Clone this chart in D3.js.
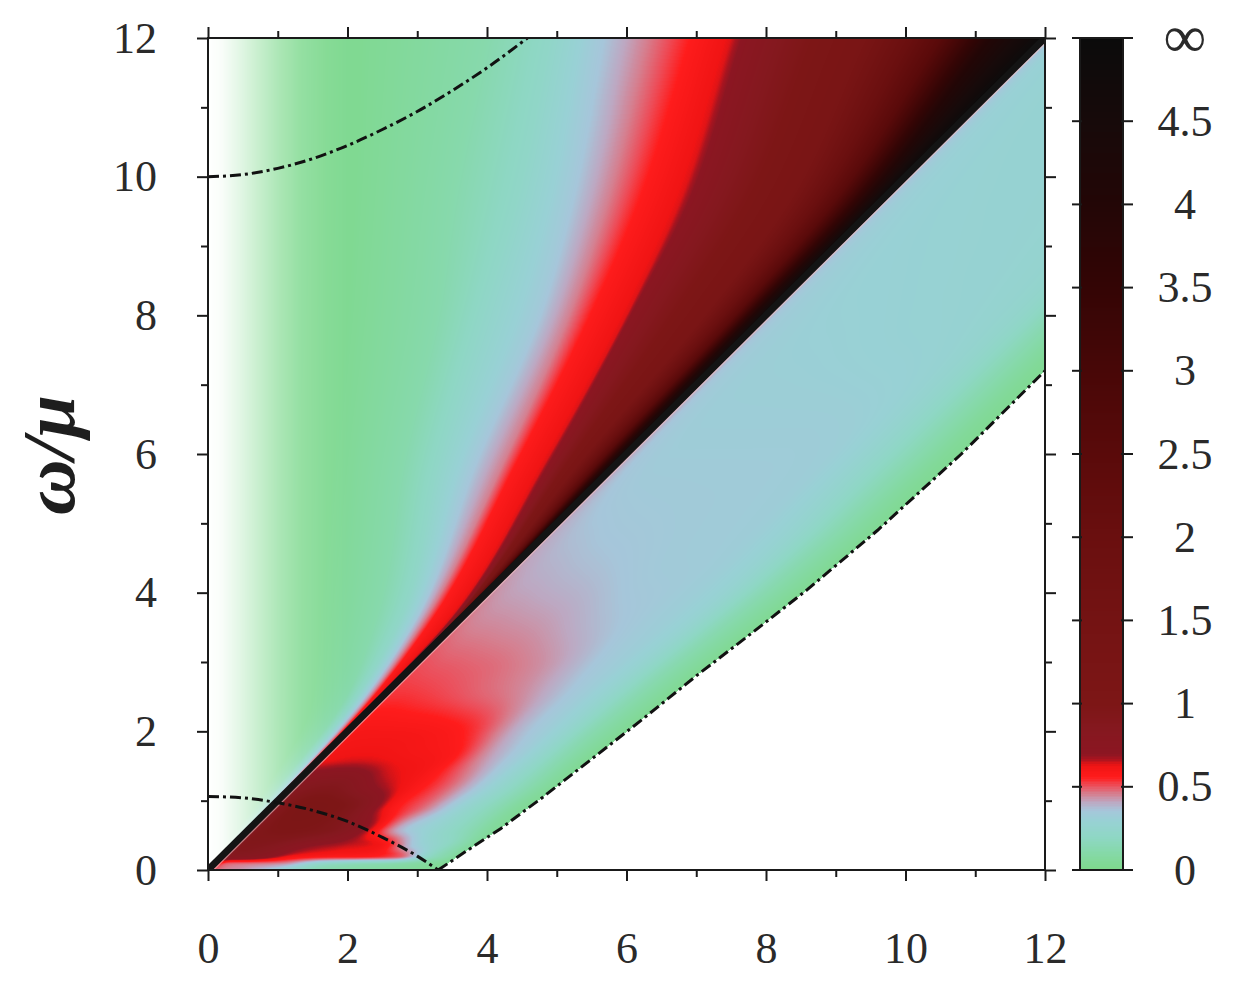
<!DOCTYPE html>
<html><head><meta charset="utf-8">
<script src="https://cdn.jsdelivr.net/npm/d3@7"></script>
<style>body{margin:0;background:#fff} svg{display:block}</style>
</head><body>
<svg id="chart" width="1235" height="1000"></svg>
<script>
// ---------------- DATA ----------------
const qTickMajor = [0, 2, 4, 6, 8, 10, 12];
const qTickMinor = [1, 3, 5, 7, 9, 11];
const wTickMajor = [0, 2, 4, 6, 8, 10, 12];
const wTickMinor = [1, 3, 5, 7, 9, 11];
const cbTickValues = [0, 0.5, 1, 1.5, 2, 2.5, 3, 3.5, 4, 4.5, 5];
const cbTickLabels = ["0", "0.5", "1", "1.5", "2", "2.5", "3", "3.5", "4", "4.5", "\u221E"];

// colour map (value -> colour)
const cmapValues = [0, 0.1, 0.2, 0.3, 0.36, 0.41, 0.46, 0.51, 0.56, 0.63, 0.67, 0.7, 0.85, 1.0, 1.5, 2.0, 2.5, 3.0, 3.5, 4.0, 4.5, 5.0];
const cmapColors = ["#7ed98a", "#85d9a6", "#8ed7c4", "#98d1d5", "#a6c6da", "#bda8c2", "#d57f8f", "#ec4e5a", "#ff1c1c", "#f01414", "#a8141f", "#8c1622", "#85181f", "#7d1616", "#741313", "#6a0f0f", "#5a0a0a", "#480707", "#340505", "#230606", "#170a0a", "#0b0b0b"];

// whitening toward q = 0 above the light line
const fadeQ = [0, 0.2, 0.45, 0.75, 1.05, 1.35, 1.7, 2.0];
const fadeAmount = [1, 0.95, 0.78, 0.55, 0.33, 0.16, 0.05, 0];

// region above ω = q: q-positions where the field reaches each value, per row ω
const upperRowsW = [0, 1.2, 2.45, 3.6, 5.9, 8.1, 9.6, 12];
const upperStopValues = [0.03, 0.12, 0.22, 0.34, 0.46, 0.57, 0.64, 0.74, 1.2, 2.5, 4.0];
const upperStopQ = [
  [0, 0, 0, 0, 0, 0, 0, 0, 0, 0, 0],
  [0.85, 1.0, 1.08, 1.12, 1.14, 1.155, 1.17, 1.178, 1.186, 1.193, 1.197],
  [1.5, 1.95, 2.1, 2.2, 2.28, 2.33, 2.38, 2.4, 2.42, 2.435, 2.445],
  [1.6, 2.4, 2.75, 2.95, 3.1, 3.21, 3.45, 3.5, 3.54, 3.57, 3.59],
  [1.8, 2.8, 3.3, 3.78, 4.25, 4.45, 4.85, 4.95, 5.35, 5.62, 5.78],
  [2.0, 3.3, 3.95, 4.72, 5.22, 5.55, 6.05, 6.15, 7.2, 7.65, 7.9],
  [2.1, 3.5, 4.4, 5.12, 5.72, 6.2, 6.75, 6.95, 8.3, 8.95, 9.35],
  [2.2, 4.0, 4.9, 5.55, 6.3, 6.97, 7.5, 7.75, 9.4, 10.5, 11.2]
];

// region between ω = q and the lower curve: values per row ω at fractional
// positions t across the band (t = 0 at ω = q, t = 1 at the lower curve)
const lowerRowsW = [0, 0.08, 0.2, 0.35, 0.6, 0.9, 1.2, 1.6, 2.0, 2.5, 3.0, 3.6, 4.5, 6, 8, 12];
const lowerColsT = [0, 0.02, 0.06, 0.15, 0.3, 0.45, 0.6, 0.75, 0.88, 0.96, 1.0];
const lowerValues = [
  [0.5, 0.5, 0.46, 0.42, 0.3, 0.15, 0.1, 0.08, 0.06, 0.04, 0.03],
  [0.6, 0.55, 0.48, 0.46, 0.42, 0.22, 0.15, 0.12, 0.08, 0.05, 0.04],
  [0.7, 0.78, 0.82, 0.78, 0.62, 0.58, 0.57, 0.5, 0.2, 0.1, 0.05],
  [0.75, 0.85, 0.92, 0.88, 0.72, 0.66, 0.62, 0.35, 0.2, 0.1, 0.05],
  [0.75, 0.85, 0.95, 1.0, 0.95, 0.72, 0.4, 0.26, 0.15, 0.07, 0.04],
  [0.75, 0.85, 0.95, 1.05, 0.95, 0.62, 0.47, 0.27, 0.14, 0.06, 0.04],
  [0.7, 0.8, 0.86, 0.9, 0.72, 0.6, 0.48, 0.3, 0.15, 0.07, 0.04],
  [0.6, 0.62, 0.63, 0.64, 0.62, 0.59, 0.44, 0.3, 0.14, 0.06, 0.03],
  [0.56, 0.59, 0.6, 0.6, 0.59, 0.54, 0.4, 0.29, 0.13, 0.06, 0.03],
  [0.55, 0.54, 0.54, 0.53, 0.5, 0.46, 0.38, 0.28, 0.13, 0.06, 0.03],
  [0.55, 0.51, 0.5, 0.49, 0.47, 0.43, 0.36, 0.28, 0.13, 0.06, 0.03],
  [0.54, 0.47, 0.45, 0.44, 0.42, 0.38, 0.34, 0.28, 0.13, 0.06, 0.03],
  [0.54, 0.42, 0.4, 0.38, 0.36, 0.34, 0.33, 0.27, 0.13, 0.06, 0.03],
  [0.52, 0.4, 0.35, 0.33, 0.33, 0.33, 0.32, 0.24, 0.12, 0.05, 0.03],
  [0.5, 0.38, 0.33, 0.31, 0.3, 0.29, 0.28, 0.24, 0.12, 0.05, 0.03],
  [0.5, 0.36, 0.3, 0.28, 0.27, 0.27, 0.26, 0.23, 0.12, 0.05, 0.03]
];

// curves
const diagQ = [0, 12];
const diagW = [0, 12];
const upperCurveQ = [0, 0.5, 1.0, 1.5, 2.0, 2.5, 3.0, 3.5, 4.0, 4.58];
const upperCurveW = [10.0, 10.03, 10.12, 10.26, 10.45, 10.68, 10.94, 11.24, 11.57, 12.0];
const leftCurveQ = [0, 0.5, 1.0, 1.5, 2.0, 2.5, 3.0, 3.3];
const leftCurveW = [1.06, 1.04, 0.97, 0.86, 0.7, 0.47, 0.2, 0];
const lowerCurveQ = [3.3, 3.7, 4.2, 4.8, 5.5, 6.2, 7.0, 7.8, 8.6, 9.6, 10.8, 12];
const lowerCurveW = [0, 0.27, 0.6, 1.05, 1.6, 2.15, 2.8, 3.42, 4.05, 4.9, 6.0, 7.2];

// ---------------- CHART ----------------
const svg = d3.select("#chart");
const FONT = "'Liberation Serif', 'Times New Roman', serif";
const x = d3.scaleLinear().domain([0, 12]).range([208, 1045]);
const y = d3.scaleLinear().domain([0, 12]).range([870, 38]);
const cbY = d3.scaleLinear().domain([0, 5]).range([870, 38]);
const color = d3.scaleLinear().domain(cmapValues).range(cmapColors).interpolate(d3.interpolateRgb).clamp(true);

// smooth (monotone cubic, Steffen) interpolation through read samples, for display
function smooth(xs, ys) {
  const n = xs.length, h = [], d = [], m = new Array(n);
  for (let i = 0; i < n - 1; i++) { h.push(xs[i + 1] - xs[i]); d.push((ys[i + 1] - ys[i]) / (xs[i + 1] - xs[i])); }
  m[0] = d[0]; m[n - 1] = d[n - 2];
  for (let i = 1; i < n - 1; i++) {
    const p = (d[i - 1] * h[i] + d[i] * h[i - 1]) / (h[i - 1] + h[i]);
    m[i] = (Math.sign(d[i - 1]) + Math.sign(d[i])) * Math.min(Math.abs(d[i - 1]), Math.abs(d[i]), 0.5 * Math.abs(p)) || 0;
  }
  return function (v) {
    if (v <= xs[0]) return ys[0];
    if (v >= xs[n - 1]) return ys[n - 1];
    const i = d3.bisectRight(xs, v) - 1;
    const t = (v - xs[i]) / h[i], t2 = t * t, t3 = t2 * t;
    return (2 * t3 - 3 * t2 + 1) * ys[i] + (t3 - 2 * t2 + t) * h[i] * m[i] + (-2 * t3 + 3 * t2) * ys[i + 1] + (t3 - t2) * h[i] * m[i + 1];
  };
}

// heat map rendered pixel by pixel into a canvas, then placed in the svg
const x0 = x(0), y0 = y(12);
const pw = Math.round(x(12) - x(0)), ph = Math.round(y(0) - y(12));
const canvas = document.createElement("canvas");
canvas.width = pw; canvas.height = ph;
const ctx = canvas.getContext("2d");
const img = ctx.createImageData(pw, ph);
const LUT_N = 2001;
const lut = [];
for (let i = 0; i < LUT_N; i++) { const c = d3.rgb(color(i / (LUT_N - 1) * 5)); lut.push([c.r, c.g, c.b]); }
const vIndex = v => Math.max(0, Math.min(LUT_N - 1, Math.round(v / 5 * (LUT_N - 1))));
const fade = d3.scaleLinear().domain(fadeQ).range(fadeAmount).clamp(true);
const upperStopFns = upperStopValues.map((_, k) => smooth(upperRowsW, upperStopQ.map(r => r[k])));
const lowerColFns = lowerColsT.map((_, k) => smooth(lowerRowsW, lowerValues.map(r => r[k])));
const lowerEdge = d3.scaleLinear().domain(lowerCurveW).range(lowerCurveQ); // q of the lower curve at ω

for (let j = 0; j < ph; j++) {
  const w = y.invert(y0 + j + 0.5);
  let prev = 0;
  const stops = upperStopFns.map(f => { const s = Math.max(prev, Math.min(f(w), w * 0.9995)); prev = s; return s; });
  const aScale = d3.scaleLinear().domain([0, ...stops, w]).range([0, ...upperStopValues, 5]).clamp(true);
  const bFn = smooth(lowerColsT, lowerColFns.map(f => f(w)));
  const qL = lowerEdge(w);
  for (let i = 0; i < pw; i++) {
    const q = x.invert(x0 + i + 0.5);
    let r = 255, g = 255, b = 255;
    if (q <= w) {
      const c = lut[vIndex(aScale(q))];
      const f = fade(q);
      r = c[0] + (255 - c[0]) * f; g = c[1] + (255 - c[1]) * f; b = c[2] + (255 - c[2]) * f;
    } else if (q <= qL) {
      const c = lut[vIndex(bFn((q - w) / (qL - w)))];
      r = c[0]; g = c[1]; b = c[2];
    }
    const k = (j * pw + i) * 4;
    img.data[k] = r; img.data[k + 1] = g; img.data[k + 2] = b; img.data[k + 3] = 255;
  }
}
ctx.putImageData(img, 0, 0);

svg.append("defs").append("clipPath").attr("id", "plotclip")
  .append("rect").attr("x", x0).attr("y", y0).attr("width", pw).attr("height", ph);

svg.append("image")
  .attr("x", x0).attr("y", y0).attr("width", pw).attr("height", ph)
  .attr("preserveAspectRatio", "none")
  .attr("href", canvas.toDataURL("image/png"));

const plot = svg.append("g").attr("clip-path", "url(#plotclip)");
const line = d3.line().x(d => x(d[0])).y(d => y(d[1]));
const zipPts = (qs, ws) => qs.map((q, i) => [q, ws[i]]);

// diagonal ω = q
plot.append("path").datum(zipPts(diagQ, diagW)).attr("d", line)
  .attr("fill", "none").attr("stroke", "#141414").attr("stroke-width", 7);
plot.append("path").datum(zipPts(diagQ, diagW)).attr("d", line)
  .attr("fill", "none").attr("stroke", "#f0c8cc").attr("stroke-width", 1.2)
  .attr("opacity", 0.6).attr("transform", "translate(2.8,2.8)");

// dash-dot curves
const dashStyle = sel => sel.attr("fill", "none").attr("stroke", "#111").attr("stroke-width", 3)
  .attr("stroke-dasharray", "11,4,3,4");
plot.append("path").datum(zipPts(upperCurveQ, upperCurveW)).attr("d", line.curve(d3.curveMonotoneX)).call(dashStyle);
plot.append("path").datum(zipPts(leftCurveQ, leftCurveW)).attr("d", line.curve(d3.curveMonotoneX)).call(dashStyle);
plot.append("path").datum(zipPts(lowerCurveQ, lowerCurveW)).attr("d", line.curve(d3.curveLinear)).call(dashStyle);

// frame
svg.append("rect").attr("x", x0).attr("y", y0).attr("width", pw).attr("height", ph)
  .attr("fill", "none").attr("stroke", "#1a1a1a").attr("stroke-width", 2);

// axes
const styleAxis = g => {
  g.select(".domain").remove();
  g.selectAll(".tick line").attr("stroke", "#1a1a1a").attr("stroke-width", 2);
  g.selectAll("text").attr("font-family", FONT).attr("font-size", 44).attr("fill", "#2a2a2a");
};
svg.append("g").attr("transform", `translate(0,${y(0)})`)
  .call(d3.axisBottom(x).tickValues(qTickMajor).tickSize(11).tickPadding(51).tickFormat(d3.format("d"))).call(styleAxis);
svg.append("g").attr("transform", `translate(0,${y(0)})`)
  .call(d3.axisBottom(x).tickValues(qTickMinor).tickSize(7).tickFormat("")).call(styleAxis);
svg.append("g").attr("transform", `translate(0,${y(12)})`)
  .call(d3.axisTop(x).tickValues(qTickMajor).tickSize(11).tickFormat("")).call(styleAxis);
svg.append("g").attr("transform", `translate(0,${y(12)})`)
  .call(d3.axisTop(x).tickValues(qTickMinor).tickSize(7).tickFormat("")).call(styleAxis);
svg.append("g").attr("transform", `translate(${x(0)},0)`)
  .call(d3.axisLeft(y).tickValues(wTickMajor).tickSize(11).tickPadding(40).tickFormat(d3.format("d"))).call(styleAxis);
svg.append("g").attr("transform", `translate(${x(0)},0)`)
  .call(d3.axisLeft(y).tickValues(wTickMinor).tickSize(7).tickFormat("")).call(styleAxis);
svg.append("g").attr("transform", `translate(${x(12)},0)`)
  .call(d3.axisRight(y).tickValues(wTickMajor).tickSize(11).tickFormat("")).call(styleAxis);
svg.append("g").attr("transform", `translate(${x(12)},0)`)
  .call(d3.axisRight(y).tickValues(wTickMinor).tickSize(7).tickFormat("")).call(styleAxis);

// y-axis title
svg.append("text")
  .attr("transform", "translate(74,455) rotate(-90)")
  .attr("text-anchor", "middle")
  .attr("font-family", FONT).attr("font-style", "italic").attr("font-weight", "bold")
  .attr("font-size", 74).attr("fill", "#1e1e1e")
  .attr("textLength", 120).attr("lengthAdjust", "spacingAndGlyphs")
  .text("\u03C9/\u03BC");

// colour bar
const cbX = 1080, cbW = 43;
const cbSteps = d3.range(0, 5, 0.01);
svg.append("g").selectAll("rect").data(cbSteps).join("rect")
  .attr("x", cbX).attr("width", cbW)
  .attr("y", d => cbY(d + 0.01))
  .attr("height", d => cbY(d) - cbY(d + 0.01) + 0.6)
  .attr("fill", d => color(d + 0.005))
  .attr("shape-rendering", "crispEdges");
svg.append("rect").attr("x", cbX).attr("y", cbY(5)).attr("width", cbW).attr("height", cbY(0) - cbY(5))
  .attr("fill", "none").attr("stroke", "#1a1a1a").attr("stroke-width", 2);
const cbTicks = svg.append("g");
cbTicks.selectAll("line.l").data(cbTickValues).join("line").attr("class", "l")
  .attr("x1", cbX - 8).attr("x2", cbX + 2).attr("y1", d => cbY(d)).attr("y2", d => cbY(d))
  .attr("stroke", "#1a1a1a").attr("stroke-width", 2);
cbTicks.selectAll("line.r").data(cbTickValues).join("line").attr("class", "r")
  .attr("x1", cbX + cbW - 2).attr("x2", cbX + cbW + 10).attr("y1", d => cbY(d)).attr("y2", d => cbY(d))
  .attr("stroke", "#1a1a1a").attr("stroke-width", 2);
const cbAxis = svg.append("g").attr("transform", `translate(${cbX + cbW},0)`)
  .call(d3.axisRight(cbY).tickValues(cbTickValues).tickSize(0).tickFormat((d, i) => cbTickLabels[i]))
  .call(styleAxis);
cbAxis.selectAll("text").attr("x", 62).attr("text-anchor", "middle")
  .filter(d => d === 5).attr("font-size", 60).attr("dy", "0.3em");
</script>
</body></html>
